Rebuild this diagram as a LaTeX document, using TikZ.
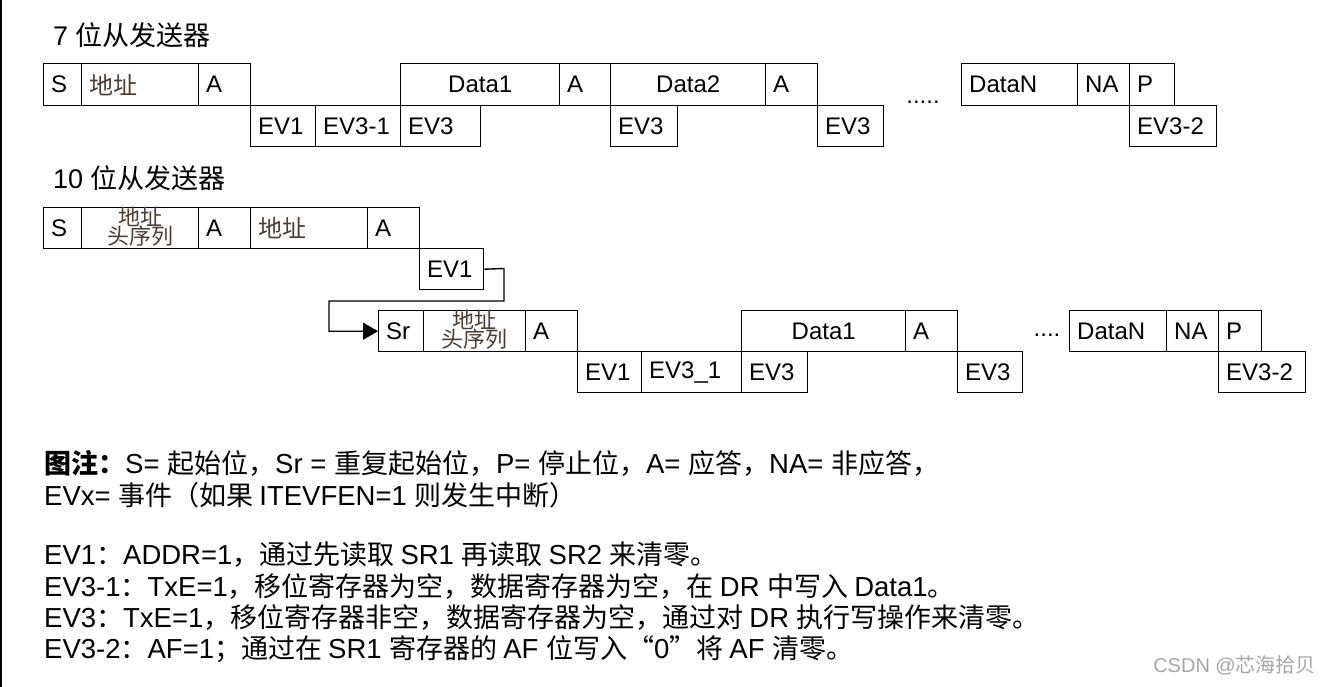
\documentclass[tikz,border=0pt]{standalone}
\usepackage{fontspec}
\setmainfont{Liberation Sans}
\newfontfamily\cjk{Noto Sans CJK SC}
\usetikzlibrary{arrows.meta}
\newcommand\zh[1]{{\cjk #1}}
\newcommand\nz[1]{{\cjk\fontsize{27}{28}\selectfont #1}}
\definecolor{addr}{RGB}{78,60,48}
\tikzset{box/.style={draw,line width=1.4pt,inner sep=0pt,rectangle},
 lbl/.style={font=\fontsize{24}{26}\selectfont,inner sep=0pt},
 note/.style={font=\fontsize{27.5}{28}\selectfont,anchor=west,inner sep=0pt}}
\newcommand\mkbox[5]{\pgfmathsetmacro\bw{#4-#2}\pgfmathsetmacro\bh{#5-#3}%
 \node[box,minimum width=\bw pt,minimum height=\bh pt,anchor=north west] (#1) at (#2,#3) {};}
\newcommand\bxl[6]{\mkbox{#1}{#2}{#3}{#4}{#5}\node[lbl,anchor=west] (#1t) at ([xshift=8pt]#1.west) {#6};}
\newcommand\bxc[6]{\mkbox{#1}{#2}{#3}{#4}{#5}\node[lbl] (#1t) at (#1) {#6};}
\newcommand\addr{\textcolor{addr}{\zh{地址}}}
\newcommand\addrh{\textcolor{addr}{\fontsize{22}{17}\selectfont\cjk\begin{tabular}{@{}c@{}}地址\\[-4pt]头序列\end{tabular}}}
\begin{document}
\begin{tikzpicture}[x=1pt,y=-1pt]
\useasboundingbox (0,0) rectangle (1321,687);
\draw[line width=2pt] (1,0) -- (1,687);
\node[lbl,anchor=west,font=\fontsize{27}{29}\selectfont] (t1) at (53,35) {7 \zh{位从发送器}};
% row 1
\bxl{a1}{43}{63}{81}{105}{S}
\bxl{a2}{81}{63}{198}{105}{\addr}
\bxl{a3}{198}{63}{250}{105}{A}
\bxc{a4}{400}{63}{559}{105}{Data1}
\bxl{a5}{559}{63}{610}{105}{A}
\bxc{a6}{610}{63}{765}{105}{Data2}
\bxl{a7}{765}{63}{817}{105}{A}
\bxl{a8}{961}{63}{1077}{105}{DataN}
\bxl{a9}{1077}{63}{1129}{105}{NA}
\bxl{a10}{1129}{63}{1174}{105}{P}
\bxl{b1}{250}{105}{315}{146}{EV1}
\bxl{b2}{315}{105}{400}{146}{EV3-1}
\bxl{b3}{400}{105}{480}{146}{EV3}
\bxl{b4}{610}{105}{677}{146}{EV3}
\bxl{b5}{817}{105}{883}{146}{EV3}
\bxl{b6}{1129}{105}{1216}{146}{EV3-2}
\node[lbl] (d1) at (923,102) {.....};
% row 2
\node[lbl,anchor=west,font=\fontsize{27}{29}\selectfont] (t2) at (53,178) {10 \zh{位从发送器}};
\bxl{c1}{43}{207}{81}{248}{S}
\bxc{c2}{81}{207}{198}{248}{\addrh}
\bxl{c3}{198}{207}{250}{248}{A}
\bxl{c4}{250}{207}{367}{248}{\addr}
\bxl{c5}{367}{207}{419}{248}{A}
\bxl{e1}{419}{248}{483}{289}{EV1}
\bxl{f1}{378}{310}{423}{351}{Sr}
\bxc{f2}{423}{310}{525}{351}{\addrh}
\bxl{f3}{525}{310}{577}{351}{A}
\bxc{f4}{741}{310}{905}{351}{Data1}
\bxl{f5}{905}{310}{957}{351}{A}
\bxl{f6}{1069}{310}{1166}{351}{DataN}
\bxl{f7}{1166}{310}{1218}{351}{NA}
\bxl{f8}{1218}{310}{1261}{351}{P}
\bxl{g1}{577}{351}{641}{392}{EV1}
\bxl{g2}{641}{351}{741}{392}{EV3\_1}
\bxl{g3}{741}{351}{807}{392}{EV3}
\bxl{g4}{957}{351}{1022}{392}{EV3}
\bxl{g5}{1218}{351}{1305}{392}{EV3-2}
\node[lbl] (d2) at (1047,335) {....};
\coordinate (k1) at (504,268.5);
\coordinate (k2) at (504,301);
\coordinate (k3) at (329,301);
\draw[line width=1.4pt,-{Triangle[length=15pt,width=17pt]}] (e1.east) -- (k1) -- (k2) -- (k3) |- (f1.west);
% notes
\node[note] (n1) at (44,463) {\nz{\bfseries 图注：}S= \nz{起始位，}Sr = \nz{重复起始位，}P= \nz{停止位，}A= \nz{应答，}NA= \nz{非应答，}};
\node[note] (n2) at (44,495) {EVx= \nz{事件（如果 }ITEVFEN=1 \nz{则发生中断）}};
\node[note] (n3) at (44,555) {EV1\nz{：}ADDR=1\nz{，通过先读取 }SR1 \nz{再读取 }SR2 \nz{来清零。}};
\node[note] (n4) at (44,587) {EV3-1\nz{：}TxE=1\nz{，移位寄存器为空，数据寄存器为空，在 }DR \nz{中写入 }Data1\nz{。}};
\node[note] (n5) at (44,618) {EV3\nz{：}TxE=1\nz{，移位寄存器非空，数据寄存器为空，通过对 }DR \nz{执行写操作来清零。}};
\node[note] (n6) at (44,649) {EV3-2\nz{：}AF=1\nz{；通过在 }SR1 \nz{寄存器的 }AF \nz{位写入“}0\nz{”将 }AF \nz{清零。}};
\node[anchor=east,inner sep=0pt,text=black!35,font=\fontsize{20}{22}\selectfont] (wm) at (1316,665) {CSDN @\zh{芯海拾贝}};
\end{tikzpicture}
\end{document}
